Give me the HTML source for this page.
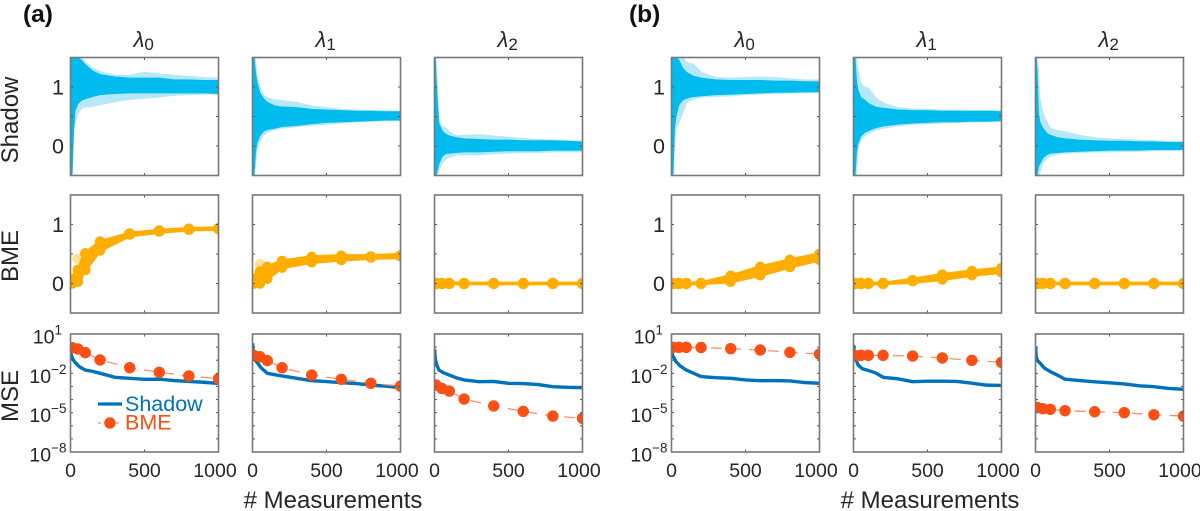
<!DOCTYPE html>
<html lang="en">
<head>
<meta charset="utf-8">
<title>Shadow vs BME eigenvalue estimates</title>
<style>
html,body{margin:0;padding:0;background:#fff;width:1200px;height:511px;overflow:hidden}
svg{display:block;filter:blur(0.35px)}
text{font-family:"Liberation Sans",sans-serif;fill:#262626}
</style>
</head>
<body>
<svg id="chart" xmlns="http://www.w3.org/2000/svg" width="1200" height="511" viewBox="0 0 1200 511">
<text x="23" y="22" font-size="24.5" font-weight="bold" style="fill:#111">(a)</text>
<text x="629" y="22" font-size="24.5" font-weight="bold" style="fill:#111">(b)</text>
<text transform="translate(18,120) rotate(-90)" text-anchor="middle" font-size="24">Shadow</text>
<text transform="translate(18,256) rotate(-90)" text-anchor="middle" font-size="24">BME</text>
<text transform="translate(18,396) rotate(-90)" text-anchor="middle" font-size="24">MSE</text>
<text x="333" y="508" text-anchor="middle" font-size="24"># Measurements</text>
<text x="930" y="508" text-anchor="middle" font-size="24"># Measurements</text>
</svg>
<script>
// ---------- categories and tick labels ----------
const columnTitles = ['0', '1', '2'];
const linearTicks = [0, 1];
const linearMinorTicks = [0.5];
const logTicks = [1, -2, -5, -8];
const logMinorTicks = [0, -1, -3, -4, -6, -7];
const xTicks = [0, 500, 1000];

// ---------- shadow estimator: envelope of all runs ----------
const shadowCounts = [1, 5, 10, 20, 30, 50, 75, 100, 150, 200, 300, 400, 500, 600, 700, 800, 900, 1000];

const a0OuterUp = [1.5, 1.5, 1.5, 1.5, 1.5, 1.5, 1.5, 1.42, 1.32, 1.26, 1.2, 1.2, 1.25, 1.22, 1.2, 1.18, 1.16, 1.15];
const a0CoreUp = [1.5, 1.5, 1.5, 1.5, 1.5, 1.5, 1.45, 1.38, 1.27, 1.21, 1.17, 1.15, 1.15, 1.15, 1.12, 1.12, 1.11, 1.11];
const a0CoreLo = [-0.5, -0.5, -0.5, 0.2, 0.6, 0.72, 0.78, 0.8, 0.84, 0.87, 0.89, 0.9, 0.9, 0.9, 0.9, 0.9, 0.9, 0.89];
const a0OuterLo = [-0.5, -0.5, -0.5, 0.3, 0.36, 0.55, 0.64, 0.66, 0.67, 0.7, 0.75, 0.79, 0.81, 0.83, 0.86, 0.87, 0.88, 0.88];

const a1OuterUp = [1.5, 1.5, 1.5, 1.5, 1.2, 1.0, 0.86, 0.82, 0.78, 0.77, 0.74, 0.68, 0.65, 0.62, 0.61, 0.6, 0.6, 0.59];
const a1CoreUp = [1.5, 1.5, 1.5, 1.25, 1.08, 0.9, 0.8, 0.74, 0.68, 0.66, 0.65, 0.62, 0.61, 0.6, 0.59, 0.59, 0.58, 0.58];
const a1CoreLo = [-0.5, -0.5, -0.5, -0.1, 0.05, 0.18, 0.25, 0.28, 0.3, 0.33, 0.35, 0.38, 0.4, 0.41, 0.42, 0.43, 0.44, 0.44];
const a1OuterLo = [-0.5, -0.5, -0.5, -0.35, -0.1, 0.08, 0.18, 0.23, 0.28, 0.3, 0.33, 0.35, 0.37, 0.39, 0.41, 0.42, 0.43, 0.43];

const a2OuterUp = [1.5, 1.5, 1.5, 0.95, 0.42, 0.33, 0.31, 0.24, 0.17, 0.18, 0.19, 0.17, 0.15, 0.13, 0.11, 0.1, 0.09, 0.08];
const a2CoreUp = [1.5, 1.5, 1.2, 0.7, 0.38, 0.26, 0.2, 0.17, 0.14, 0.12, 0.11, 0.1, 0.1, 0.09, 0.09, 0.09, 0.08, 0.07];
const a2CoreLo = [-0.5, -0.5, -0.5, -0.4, -0.3, -0.18, -0.13, -0.12, -0.11, -0.1, -0.1, -0.09, -0.08, -0.08, -0.08, -0.07, -0.07, -0.07];
const a2OuterLo = [-0.5, -0.5, -0.5, -0.5, -0.42, -0.3, -0.22, -0.19, -0.15, -0.15, -0.15, -0.13, -0.12, -0.11, -0.11, -0.1, -0.1, -0.1];

const b0OuterUp = [1.5, 1.5, 1.5, 1.5, 1.5, 1.5, 1.5, 1.42, 1.38, 1.25, 1.16, 1.15, 1.16, 1.17, 1.16, 1.14, 1.12, 1.12];
const b0CoreUp = [1.5, 1.5, 1.5, 1.5, 1.5, 1.45, 1.32, 1.25, 1.18, 1.15, 1.12, 1.11, 1.11, 1.11, 1.1, 1.1, 1.09, 1.09];
const b0CoreLo = [-0.5, -0.5, -0.5, 0.3, 0.5, 0.7, 0.78, 0.81, 0.84, 0.85, 0.87, 0.88, 0.89, 0.9, 0.91, 0.91, 0.92, 0.92];
const b0OuterLo = [-0.5, -0.5, -0.5, 0.0, 0.3, 0.39, 0.55, 0.73, 0.8, 0.83, 0.84, 0.85, 0.87, 0.88, 0.89, 0.9, 0.9, 0.91];

const b1OuterUp = [1.5, 1.5, 1.5, 1.5, 1.3, 1.07, 1.0, 0.98, 0.82, 0.73, 0.65, 0.63, 0.62, 0.61, 0.61, 0.6, 0.6, 0.6];
const b1CoreUp = [1.5, 1.5, 1.5, 1.1, 0.95, 0.82, 0.78, 0.72, 0.66, 0.64, 0.61, 0.6, 0.6, 0.59, 0.59, 0.59, 0.59, 0.58];
const b1CoreLo = [-0.5, -0.5, -0.5, -0.1, 0.05, 0.17, 0.23, 0.26, 0.31, 0.34, 0.37, 0.39, 0.4, 0.41, 0.41, 0.42, 0.42, 0.43];
const b1OuterLo = [-0.5, -0.5, -0.5, -0.5, -0.05, 0.1, 0.17, 0.21, 0.27, 0.3, 0.34, 0.37, 0.38, 0.39, 0.4, 0.41, 0.41, 0.42];

const b2OuterUp = [1.5, 1.5, 1.5, 1.3, 0.8, 0.56, 0.42, 0.3, 0.26, 0.24, 0.18, 0.14, 0.12, 0.11, 0.1, 0.09, 0.08, 0.08];
const b2CoreUp = [1.5, 1.5, 1.3, 0.55, 0.4, 0.3, 0.22, 0.18, 0.14, 0.12, 0.1, 0.09, 0.08, 0.08, 0.07, 0.07, 0.06, 0.06];
const b2CoreLo = [-0.5, -0.5, -0.5, -0.35, -0.3, -0.2, -0.15, -0.12, -0.11, -0.1, -0.09, -0.08, -0.07, -0.07, -0.07, -0.06, -0.06, -0.06];
const b2OuterLo = [-0.5, -0.5, -0.5, -0.5, -0.45, -0.28, -0.22, -0.17, -0.14, -0.12, -0.11, -0.1, -0.1, -0.09, -0.09, -0.08, -0.08, -0.07];

// ---------- BME estimator ----------
const bmeCounts = [10, 50, 100, 200, 400, 600, 800, 1000];

const a0BmeMean = [0.03, 0.13, 0.37, 0.63, 0.84, 0.89, 0.92, 0.93];
const a0BmeLo = [0.0, 0.03, 0.23, 0.56, 0.81, 0.87, 0.91, 0.92];
const a0BmeHi = [0.07, 0.23, 0.51, 0.71, 0.85, 0.9, 0.93, 0.94];
const a1BmeMean = [0.03, 0.08, 0.2, 0.33, 0.41, 0.43, 0.45, 0.47];
const a1BmeLo = [0.0, 0.0, 0.08, 0.27, 0.36, 0.4, 0.43, 0.44];
const a1BmeHi = [0.08, 0.2, 0.28, 0.38, 0.45, 0.47, 0.47, 0.49];
const a2BmeMean = [0.0, 0.0, 0.0, 0.0, 0.0, 0.0, 0.0, 0.0];
const a2BmeLo = [0.0, 0.0, 0.0, 0.0, 0.0, 0.0, 0.0, 0.0];
const a2BmeHi = [0.05, 0.02, 0.01, 0.0, 0.0, 0.0, 0.0, 0.0];
const b0BmeMean = [0.0, 0.0, 0.0, 0.0, 0.08, 0.22, 0.35, 0.45];
const b0BmeLo = [0.0, 0.0, 0.0, 0.0, 0.03, 0.14, 0.28, 0.4];
const b0BmeHi = [0.0, 0.0, 0.0, 0.01, 0.13, 0.28, 0.4, 0.5];
const b1BmeMean = [0.0, 0.0, 0.0, 0.0, 0.05, 0.11, 0.18, 0.23];
const b1BmeLo = [0.0, 0.0, 0.0, 0.0, 0.02, 0.07, 0.14, 0.19];
const b1BmeHi = [0.0, 0.0, 0.0, 0.0, 0.07, 0.15, 0.21, 0.26];
const b2BmeMean = [0.0, 0.0, 0.0, 0.0, 0.0, 0.0, 0.0, 0.0];
const b2BmeLo = [0.0, 0.0, 0.0, 0.0, 0.0, 0.0, 0.0, 0.0];
const b2BmeHi = [0.0, 0.0, 0.0, 0.0, 0.0, 0.0, 0.0, 0.0];

// ---------- MSE (log10 values) ----------
const mseShadowCounts = [1, 5, 15, 30, 60, 100, 150, 200, 300, 400, 500, 600, 700, 800, 900, 1000];

const a0MseShadow = [0.03, -0.6, -0.9, -1.15, -1.5, -1.75, -1.85, -2.0, -2.3, -2.38, -2.46, -2.45, -2.55, -2.62, -2.68, -2.77];
const a1MseShadow = [0.29, -0.6, -0.95, -1.15, -1.6, -2.0, -2.1, -2.2, -2.38, -2.56, -2.63, -2.71, -2.78, -2.89, -2.98, -3.09];
const a2MseShadow = [-0.17, -0.9, -1.35, -1.75, -1.95, -2.13, -2.35, -2.5, -2.64, -2.62, -2.76, -2.78, -2.86, -3.02, -3.07, -3.09];
const b0MseShadow = [-0.09, -0.55, -0.8, -1.1, -1.45, -1.75, -2.0, -2.25, -2.33, -2.38, -2.5, -2.56, -2.55, -2.58, -2.7, -2.76];
const b1MseShadow = [0.16, -0.5, -0.9, -1.35, -1.65, -1.78, -1.97, -2.3, -2.42, -2.64, -2.6, -2.6, -2.62, -2.75, -2.9, -2.92];
const b2MseShadow = [0.03, -0.8, -1.05, -1.2, -1.6, -1.87, -2.15, -2.45, -2.55, -2.65, -2.72, -2.81, -2.95, -3.02, -3.15, -3.22];

const a0MseBme = [-0.04, -0.14, -0.42, -0.98, -1.57, -1.92, -2.2, -2.41];
const a1MseBme = [-0.65, -0.73, -1.03, -1.57, -2.13, -2.46, -2.76, -2.97];
const a2MseBme = [-2.89, -3.15, -3.35, -3.96, -4.49, -4.9, -5.26, -5.43];
const b0MseBme = [-0.02, -0.02, -0.02, -0.03, -0.12, -0.22, -0.4, -0.53];
const b1MseBme = [-0.65, -0.63, -0.63, -0.63, -0.68, -0.83, -1.01, -1.16];
const b2MseBme = [-4.6, -4.7, -4.75, -4.85, -4.93, -5.0, -5.16, -5.26];

// ---------- panel wiring ----------
const panels = [
  {id:'a0', col:0, fig:'a', left:70.5, up:a0OuterUp, cu:a0CoreUp, cl:a0CoreLo, lo:a0OuterLo, m:a0BmeMean, bl:a0BmeLo, bh:a0BmeHi, ms:a0MseShadow, mb:a0MseBme, labels:true, ghost:[45, 0.42]},
  {id:'a1', col:1, fig:'a', left:252.5, up:a1OuterUp, cu:a1CoreUp, cl:a1CoreLo, lo:a1OuterLo, m:a1BmeMean, bl:a1BmeLo, bh:a1BmeHi, ms:a1MseShadow, mb:a1MseBme, labels:false, ghost:[50, 0.33]},
  {id:'a2', col:2, fig:'a', left:434.5, up:a2OuterUp, cu:a2CoreUp, cl:a2CoreLo, lo:a2OuterLo, m:a2BmeMean, bl:a2BmeLo, bh:a2BmeHi, ms:a2MseShadow, mb:a2MseBme, labels:false, ghost:null},
  {id:'b0', col:0, fig:'b', left:671.5, up:b0OuterUp, cu:b0CoreUp, cl:b0CoreLo, lo:b0OuterLo, m:b0BmeMean, bl:b0BmeLo, bh:b0BmeHi, ms:b0MseShadow, mb:b0MseBme, labels:true, ghost:null},
  {id:'b1', col:1, fig:'b', left:853.5, up:b1OuterUp, cu:b1CoreUp, cl:b1CoreLo, lo:b1OuterLo, m:b1BmeMean, bl:b1BmeLo, bh:b1BmeHi, ms:b1MseShadow, mb:b1MseBme, labels:false, ghost:null},
  {id:'b2', col:2, fig:'b', left:1035.5, up:b2OuterUp, cu:b2CoreUp, cl:b2CoreLo, lo:b2OuterLo, m:b2BmeMean, bl:b2BmeLo, bh:b2BmeHi, ms:b2MseShadow, mb:b2MseBme, labels:false, ghost:null}
];

const NS = 'http://www.w3.org/2000/svg';
const svg = document.getElementById('chart');
const AXW = 148, AXH = 118;
const ROW_TOP = [57.5, 195, 334];
const FRAME = '#777', CYAN = '#00bcee', CYAN_LIGHT = '#b5e8f9', AMBER = '#ffae00', AMBER_LIGHT = '#ffdf9a', BLUE = '#0072bd', RED = '#fb4f14', RED_LIGHT = '#fb8f6c';

function mk(tag, attrs, parent) {
  const e = document.createElementNS(NS, tag);
  for (const k in attrs) e.setAttribute(k, attrs[k]);
  parent.appendChild(e);
  return e;
}
const xScale = (left) => (n) => left + AXW * n / 1000;
const yLinear = (top) => (v) => top + AXH * (1.5 - v) / 2;
const yLog = (top) => (v) => top + AXH * (1 - v) / 9;
const poly = (xs, ys, sx, sy) => xs.map((x, i) => sx(x).toFixed(2) + ',' + sy(ys[i]).toFixed(2));

function addClip(id, left, top) {
  const cp = mk('clipPath', {id: id}, svg);
  mk('rect', {x: left, y: top, width: AXW, height: AXH}, cp);
}

function drawFrame(group, left, top, tickVals, minorVals, sy, name) {
  const sx = xScale(left);
  const axis = mk('g', {}, group);
  
  
  const ticks = [];
  xTicks.slice(1, 2).forEach(t => {
    ticks.push([sx(t), top, sx(t), top + 2.5], [sx(t), top + AXH, sx(t), top + AXH - 2.5]);
  });
  tickVals.concat(minorVals).forEach(t => {
    const y = sy(t);
    ticks.push([left, y, left + 2.5, y], [left + AXW, y, left + AXW - 2.5, y]);
  });
  ticks.forEach(t => {
    const line = mk('line', {x1: t[0], y1: t[1], x2: t[2], y2: t[3], stroke: '#555', 'stroke-width': 1}, axis);
    
    
  });
  const frame = mk('rect', {x: left, y: top, width: AXW, height: AXH, fill: 'none', stroke: FRAME, 'stroke-width': 1.6}, axis);
  
  
}

function drawShadow(p) {
  const top = ROW_TOP[0], sx = xScale(p.left), sy = yLinear(top), name = p.id + '-shadow';
  const clip = 'clip-' + name;
  addClip(clip, p.left, top);
  const g = mk('g', {'clip-path': 'url(#' + clip + ')'}, svg);
  
  
  const outer = poly(shadowCounts, p.up, sx, sy).concat(poly(shadowCounts, p.lo, sx, sy).reverse());
  const core = poly(shadowCounts, p.cu, sx, sy).concat(poly(shadowCounts, p.cl, sx, sy).reverse());
  const outerBand = mk('polygon', {points: outer.join(' '), fill: CYAN_LIGHT, stroke: CYAN_LIGHT, 'stroke-width': 1}, g);
  
  
  const coreBand = mk('polygon', {points: core.join(' '), fill: CYAN, stroke: CYAN, 'stroke-width': 1}, g);
  
  
  drawFrame(svg, p.left, top, linearTicks, linearMinorTicks, sy, name);
}

function drawBme(p) {
  const top = ROW_TOP[1], sx = xScale(p.left), sy = yLinear(top), name = p.id + '-bme';
  const clip = 'clip-' + name;
  addClip(clip, p.left, top);
  const g = mk('g', {'clip-path': 'url(#' + clip + ')'}, svg);
  
  
  if (p.ghost) {
    const ghost = mk('circle', {cx: sx(p.ghost[0]), cy: sy(p.ghost[1]), r: 4.5, fill: AMBER_LIGHT, stroke: AMBER_LIGHT}, g);
    
    
  }
  const band = poly(bmeCounts, p.bh, sx, sy).concat(poly(bmeCounts, p.bl, sx, sy).reverse());
  const bandEl = mk('polygon', {points: band.join(' '), fill: AMBER, stroke: AMBER, 'stroke-width': 3.4, 'stroke-linejoin': 'round'}, g);
  
  
  const line = mk('polyline', {points: poly(bmeCounts, p.m, sx, sy).join(' '), fill: 'none', stroke: AMBER, 'stroke-width': 3.4}, g);
  
  
  bmeCounts.forEach((n, i) => {
    const dev = Math.abs(p.bh[i] - p.bl[i]);
    if (dev > 0.05) {
      [p.bl[i], p.bh[i]].forEach(v => {
        const c = mk('circle', {cx: sx(n), cy: sy(v), r: 5.3, fill: AMBER}, g);
        
        
      });
    }
    const pt = mk('circle', {cx: sx(n), cy: sy(p.m[i]), r: 5.7, fill: AMBER}, g);
    
    
  });
  drawFrame(svg, p.left, top, linearTicks, linearMinorTicks, sy, name);
}

function drawMse(p) {
  const top = ROW_TOP[2], sx = xScale(p.left), sy = yLog(top), name = p.id + '-mse';
  const clip = 'clip-' + name;
  addClip(clip, p.left, top);
  const g = mk('g', {'clip-path': 'url(#' + clip + ')'}, svg);
  
  
  const shadowLine = mk('polyline', {points: poly(mseShadowCounts, p.ms, sx, sy).join(' '), fill: 'none', stroke: BLUE, 'stroke-width': 3.4, 'stroke-linejoin': 'round'}, g);
  
  
  const bmeLine = mk('polyline', {points: poly(bmeCounts, p.mb, sx, sy).join(' '), fill: 'none', stroke: RED_LIGHT, 'stroke-width': 1.3, 'stroke-dasharray': '11 8'}, g);
  
  
  bmeCounts.forEach((n, i) => {
    const pt = mk('circle', {cx: sx(n), cy: sy(p.mb[i]), r: 5.7, fill: RED}, g);
    
    
  });
  drawFrame(svg, p.left, top, logTicks.slice(1, 3), logMinorTicks, sy, name);
  xTicks.forEach(t => {
    const tx = mk('text', {x: Math.min(sx(t), p.left + AXW - 3.5), y: 477, 'text-anchor': 'middle', 'font-size': 19.5}, svg);
    tx.textContent = String(t);
    
    
  });
}

function drawTitle(p) {
  const cx = p.left + AXW / 2 - 11;
  const t = mk('text', {x: cx, y: 47, 'font-size': 22, 'font-style': 'italic'}, svg);
  
  
  const l = mk('tspan', {}, t);
  l.textContent = 'λ';
  const s = mk('tspan', {dy: 3, 'font-size': 17, 'font-style': 'normal'}, t);
  s.textContent = columnTitles[p.col];
}

function drawYLabels(p) {
  [0, 1].forEach(r => {
    const sy = yLinear(ROW_TOP[r]);
    linearTicks.forEach(v => {
      const t = mk('text', {x: p.left - 6.5, y: sy(v) + 7.5, 'text-anchor': 'end', 'font-size': 21.5}, svg);
      t.textContent = String(v);
      
      
    });
  });
  const sy = yLog(ROW_TOP[2]);
  logTicks.forEach(v => {
    const t = mk('text', {x: p.left - (v > 0 ? 8.5 : 4), y: sy(v) + 9.5, 'text-anchor': 'end', 'font-size': 19.5}, svg);
    
    
    const base = mk('tspan', {}, t);
    base.textContent = '10';
    const exp = mk('tspan', {dy: -9, 'font-size': 13.5}, t);
    exp.textContent = String(v).replace('-', '\u2212');
  });
}

panels.forEach(p => {
  drawShadow(p);
  drawBme(p);
  drawMse(p);
  drawTitle(p);
  if (p.labels) drawYLabels(p);
});

// ---------- legend ----------
const legend = mk('g', {}, svg);


const legShadowLine = mk('line', {x1: 98, y1: 404, x2: 122, y2: 404, stroke: BLUE, 'stroke-width': 3.2}, legend);


const legShadowText = mk('text', {x: 125, y: 411, 'font-size': 21.5, style: 'fill:' + BLUE}, legend);
legShadowText.textContent = 'Shadow';


const legBmeLine = mk('line', {x1: 98, y1: 423, x2: 122, y2: 423, stroke: RED_LIGHT, 'stroke-width': 1.3, 'stroke-dasharray': '3 3'}, legend);


const legBmeDot = mk('circle', {cx: 110, cy: 423, r: 5.7, fill: RED}, legend);


const legBmeText = mk('text', {x: 125, y: 429.5, 'font-size': 21.5, style: 'fill:' + RED}, legend);
legBmeText.textContent = 'BME';


</script>
</body>
</html>
